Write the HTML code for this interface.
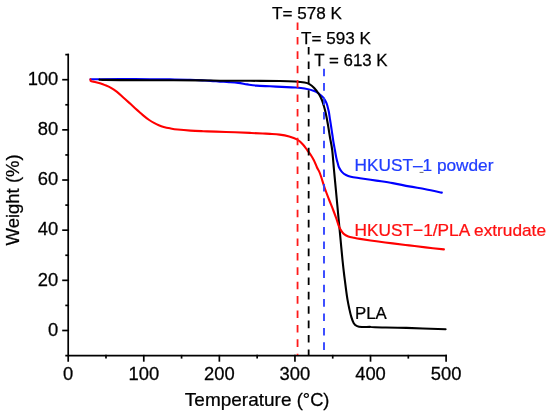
<!DOCTYPE html>
<html><head><meta charset="utf-8"><title>TGA Weight vs Temperature</title><style>
html,body{margin:0;padding:0;background:#fff;width:550px;height:416px;overflow:hidden}
svg{display:block}
</style></head><body>
<svg width="550" height="416" viewBox="0 0 550 416">
<rect width="550" height="416" fill="#fff"/>
<g stroke="#000" stroke-width="1.7" stroke-linecap="butt" fill="none">
<line x1="68.2" y1="53.8" x2="68.2" y2="361.7"/>
<line x1="65.3" y1="355.7" x2="446.95" y2="355.7"/>
<line x1="62.2" y1="330.5" x2="69.05" y2="330.5"/>
<line x1="65.3" y1="305.42" x2="69.05" y2="305.42"/>
<line x1="62.2" y1="280.34" x2="69.05" y2="280.34"/>
<line x1="65.3" y1="255.26" x2="69.05" y2="255.26"/>
<line x1="62.2" y1="230.18" x2="69.05" y2="230.18"/>
<line x1="65.3" y1="205.1" x2="69.05" y2="205.1"/>
<line x1="62.2" y1="180.02" x2="69.05" y2="180.02"/>
<line x1="65.3" y1="154.94" x2="69.05" y2="154.94"/>
<line x1="62.2" y1="129.86" x2="69.05" y2="129.86"/>
<line x1="65.3" y1="104.78" x2="69.05" y2="104.78"/>
<line x1="62.2" y1="79.7" x2="69.05" y2="79.7"/>
<line x1="65.3" y1="54.62" x2="69.05" y2="54.62"/>
<line x1="105.99" y1="354.85" x2="105.99" y2="358.6"/>
<line x1="143.78" y1="354.85" x2="143.78" y2="361.7"/>
<line x1="181.57" y1="354.85" x2="181.57" y2="358.6"/>
<line x1="219.36" y1="354.85" x2="219.36" y2="361.7"/>
<line x1="257.15" y1="354.85" x2="257.15" y2="358.6"/>
<line x1="294.94" y1="354.85" x2="294.94" y2="361.7"/>
<line x1="332.73" y1="354.85" x2="332.73" y2="358.6"/>
<line x1="370.52" y1="354.85" x2="370.52" y2="361.7"/>
<line x1="408.31" y1="354.85" x2="408.31" y2="358.6"/>
<line x1="446.1" y1="354.85" x2="446.1" y2="361.7"/>
</g>
<g fill="none" stroke-width="2.1" stroke-linejoin="round" stroke-linecap="round">
<path d="M90.5 79.3C92.08 79.28 95.08 79.23 100 79.2C104.92 79.17 111.67 79.1 120 79.1C128.33 79.1 141.67 79.15 150 79.2C158.33 79.25 163.33 79.32 170 79.4C176.67 79.48 184.17 79.52 190 79.7C195.83 79.88 201.17 80.27 205 80.5C208.83 80.73 210.5 80.92 213 81.1C215.5 81.28 217.33 81.43 220 81.6C222.67 81.77 225.97 81.88 229 82.1C232.03 82.32 235.15 82.52 238.2 82.9C241.25 83.28 244.27 83.95 247.3 84.4C250.33 84.85 252.62 85.28 256.4 85.6C260.18 85.92 265.77 86.08 270 86.3C274.23 86.52 277.63 86.7 281.8 86.9C285.97 87.1 291.2 87.23 295 87.5C298.8 87.77 301.4 87.93 304.6 88.5C307.8 89.07 311.8 90.03 314.2 90.9C316.6 91.78 317.55 92.72 319 93.75C320.45 94.78 321.92 96.06 322.9 97.1C323.88 98.14 324.28 98.95 324.9 100C325.52 101.05 326.15 102.28 326.6 103.4C327.05 104.52 327.3 105.6 327.6 106.7C327.9 107.8 328.16 108.95 328.4 110C328.64 111.05 328.77 111.33 329.05 113C329.33 114.67 329.74 117.67 330.1 120C330.46 122.33 330.82 124.5 331.2 127C331.58 129.5 332 132.33 332.4 135C332.8 137.67 333.18 140.5 333.6 143C334.02 145.5 334.45 147.55 334.9 150C335.35 152.45 335.82 155.45 336.3 157.7C336.78 159.95 337.32 161.82 337.8 163.5C338.28 165.18 338.48 166.37 339.2 167.8C339.92 169.23 340.97 170.9 342.1 172.1C343.23 173.3 344.55 174.23 346 175C347.45 175.77 348.47 176.17 350.8 176.7C353.13 177.23 355.73 177.55 360 178.2C364.27 178.85 370.95 179.78 376.4 180.6C381.85 181.42 387.25 182.13 392.7 183.1C398.15 184.07 403.63 185.37 409.1 186.4C414.57 187.43 420.05 188.27 425.5 189.3C430.95 190.33 439.08 192.05 441.8 192.6" stroke="#0000ff"/>
<path d="M99.5 79.65C100.42 79.69 101.58 79.83 105 79.9C108.42 79.98 112.5 80.05 120 80.1C127.5 80.15 136.67 80.15 150 80.2C163.33 80.25 188.33 80.32 200 80.4C211.67 80.48 211.67 80.63 220 80.7C228.33 80.77 240 80.75 250 80.8C260 80.85 272.5 80.88 280 81C287.5 81.12 290.9 81.25 295 81.5C299.1 81.75 302.2 82.07 304.6 82.5C307 82.93 307.8 83.18 309.4 84.1C311 85.02 312.6 86.32 314.2 88C315.8 89.68 317.72 92.2 319 94.2C320.28 96.2 321.1 98.07 321.9 100C322.7 101.93 323.15 103.55 323.8 105.8C324.45 108.05 325.1 110.3 325.8 113.5C326.5 116.7 327.3 121 328 125C328.7 129 329.3 133.33 330 137.5C330.7 141.67 331.53 144.58 332.2 150C332.87 155.42 333.38 163.33 334 170C334.62 176.67 335.12 181.67 335.9 190C336.68 198.33 337.92 211.67 338.7 220C339.48 228.33 339.97 233.33 340.6 240C341.23 246.67 341.88 254 342.5 260C343.12 266 343.7 271 344.3 276C344.9 281 345.57 286.07 346.1 290C346.63 293.93 346.95 296.4 347.5 299.6C348.05 302.8 348.77 306.32 349.4 309.2C350.03 312.08 350.57 314.57 351.3 316.9C352.03 319.23 352.78 321.67 353.75 323.2C354.72 324.73 355.74 325.47 357.1 326.1C358.46 326.73 359.75 326.87 361.9 327C364.05 327.13 367.82 326.85 370 326.9C372.18 326.95 368.93 327.13 375 327.3C381.07 327.47 394.63 327.57 406.4 327.9C418.17 328.23 439.07 329.07 445.6 329.3" stroke="#000"/>
<path d="M90.5 79.3C90.52 79.55 90.3 80.43 90.6 80.8C90.9 81.17 91.57 81.32 92.3 81.5C93.03 81.68 93.75 81.6 95 81.9C96.25 82.2 98.13 82.77 99.8 83.3C101.47 83.83 103.13 84.35 105 85.1C106.87 85.85 109 86.67 111 87.8C113 88.93 115 90.33 117 91.9C119 93.47 121 95.42 123 97.2C125 98.98 127.03 100.82 129 102.6C130.97 104.38 133.03 106.3 134.8 107.9C136.57 109.5 138 110.78 139.6 112.2C141.2 113.62 142.8 115.1 144.4 116.4C146 117.7 147.6 118.92 149.2 120C150.8 121.08 152.4 122.03 154 122.9C155.6 123.77 157.18 124.53 158.8 125.2C160.42 125.87 161.83 126.38 163.7 126.9C165.57 127.42 167.67 127.87 170 128.3C172.33 128.73 174.28 129.12 177.7 129.5C181.12 129.88 186.25 130.32 190.5 130.6C194.75 130.88 198.97 131.03 203.2 131.2C207.43 131.37 210.6 131.42 215.9 131.6C221.2 131.78 229.32 132.08 235 132.3C240.68 132.52 245.38 132.7 250 132.9C254.62 133.1 259.37 133.34 262.7 133.5C266.03 133.66 267.18 133.67 270 133.85C272.82 134.03 276.4 134.16 279.6 134.6C282.8 135.04 286.32 135.7 289.2 136.5C292.08 137.3 294.65 138.12 296.9 139.4C299.15 140.68 300.93 142.35 302.7 144.2C304.47 146.05 306.2 148.78 307.5 150.5C308.8 152.22 309.42 152.83 310.5 154.5C311.58 156.17 312.92 158.33 314 160.5C315.08 162.67 316 165.33 317 167.5C318 169.67 318.72 170.08 320 173.5C321.28 176.92 323.2 183.67 324.7 188C326.2 192.33 327.62 195.92 329 199.5C330.38 203.08 331.75 206.25 333 209.5C334.25 212.75 335.55 216.28 336.5 219C337.45 221.72 337.87 223.78 338.7 225.8C339.53 227.82 340.55 229.67 341.5 231.1C342.45 232.53 343.27 233.5 344.4 234.4C345.53 235.3 346.7 235.93 348.3 236.5C349.9 237.07 352.05 237.4 354 237.8C355.95 238.2 356.27 238.32 360 238.9C363.73 239.48 370.95 240.55 376.4 241.3C381.85 242.05 387.25 242.72 392.7 243.4C398.15 244.08 403.63 244.73 409.1 245.4C414.57 246.07 419.7 246.73 425.5 247.4C431.3 248.07 440.83 249.07 443.9 249.4" stroke="#ff0000"/>
</g>
<g stroke-width="1.8" fill="none" stroke-dasharray="7.6 6.8">
<line x1="297.55" y1="22.5" x2="297.55" y2="355" stroke="#ff1a1a"/>
<line x1="308.65" y1="47" x2="308.65" y2="355" stroke="#000"/>
<line x1="324" y1="68.7" x2="324" y2="355" stroke="#2a3cff"/>
</g>
<rect x="419.6" y="171.9" width="3.9" height="1.1" fill="#7a7a7a"/>
<g font-family="'Liberation Sans', Arial, Helvetica, sans-serif" stroke-width="0.25" paint-order="stroke">
<text transform="translate(58.3 335.7) scale(1.0500 1)" font-size="17.5" fill="#000" text-anchor="end" stroke="#000">0</text>
<text transform="translate(58.3 285.54) scale(1.0500 1)" font-size="17.5" fill="#000" text-anchor="end" stroke="#000">20</text>
<text transform="translate(58.3 235.38) scale(1.0500 1)" font-size="17.5" fill="#000" text-anchor="end" stroke="#000">40</text>
<text transform="translate(58.3 185.22) scale(1.0500 1)" font-size="17.5" fill="#000" text-anchor="end" stroke="#000">60</text>
<text transform="translate(58.3 135.06) scale(1.0500 1)" font-size="17.5" fill="#000" text-anchor="end" stroke="#000">80</text>
<text transform="translate(58.3 84.9) scale(1.0500 1)" font-size="17.5" fill="#000" text-anchor="end" stroke="#000">100</text>
<text transform="translate(68.2 379.6) scale(1.0500 1)" font-size="17.5" fill="#000" text-anchor="middle" stroke="#000">0</text>
<text transform="translate(143.78 379.6) scale(1.0500 1)" font-size="17.5" fill="#000" text-anchor="middle" stroke="#000">100</text>
<text transform="translate(219.36 379.6) scale(1.0500 1)" font-size="17.5" fill="#000" text-anchor="middle" stroke="#000">200</text>
<text transform="translate(294.94 379.6) scale(1.0500 1)" font-size="17.5" fill="#000" text-anchor="middle" stroke="#000">300</text>
<text transform="translate(370.52 379.6) scale(1.0500 1)" font-size="17.5" fill="#000" text-anchor="middle" stroke="#000">400</text>
<text transform="translate(446.1 379.6) scale(1.0500 1)" font-size="17.5" fill="#000" text-anchor="middle" stroke="#000">500</text>
<text transform="translate(184.85 405.6) scale(1.0550 1)" font-size="18" fill="#000" stroke="#000">Temperature</text>
<text transform="translate(296.75 405.6) scale(1.0160 1)" font-size="18" fill="#000" stroke="#000">(°C)</text>
<text transform="translate(18.8 245.5) rotate(-90)" font-size="18.5" fill="#000" stroke="#000">Weight (%)</text>
<text transform="translate(272 19.4)" font-size="17.1" fill="#000" stroke="#000">T= 578 K</text>
<text transform="translate(301 43.7)" font-size="17.1" fill="#000" stroke="#000">T= 593 K</text>
<text transform="translate(314.3 65.8) scale(0.9870 1)" font-size="17.1" fill="#000" stroke="#000">T = 613 K</text>
<text transform="translate(354.5 170.7) scale(0.9917 1)" font-size="17.4" fill="#1f3cff" stroke="#1f3cff">HKUST&#8211;1 powder</text>
<text transform="translate(354.6 235.7) scale(0.9921 1)" font-size="17.4" fill="#ff1010" stroke="#ff1010">HKUST&#8722;1/PLA extrudate</text>
<text transform="translate(355 319) scale(0.9898 1)" font-size="17" fill="#000" stroke="#000">PLA</text>
</g>
</svg>
</body></html>
